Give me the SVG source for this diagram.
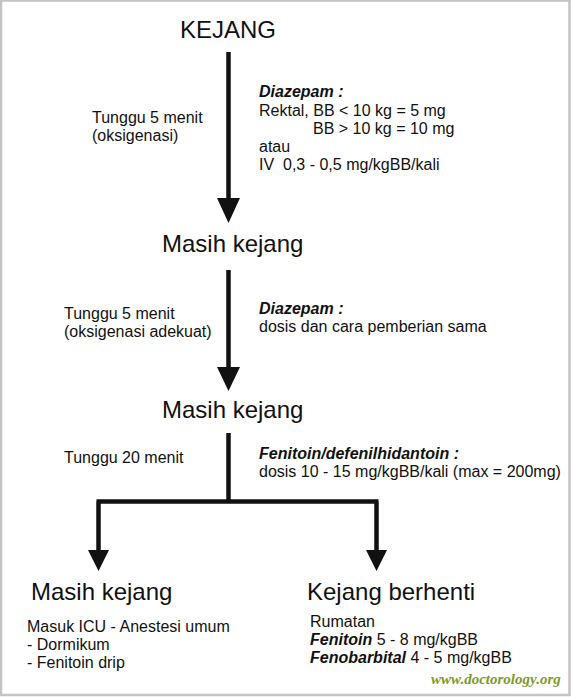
<svg xmlns="http://www.w3.org/2000/svg" width="571" height="697" viewBox="0 0 571 697">
<style>
.h{font-family:"Liberation Sans",Arial,sans-serif;font-size:24px;fill:#111}
.t{font-family:"Liberation Sans",Arial,sans-serif;font-size:16px;fill:#111}
.b{font-weight:bold;font-style:italic}
.ln{stroke:#111;stroke-width:4.5;fill:none}
.hd{fill:#111}
</style>
<rect x="0" y="0" width="571" height="697" fill="#fff"/>
<rect x="1" y="0.5" width="568.5" height="694.5" fill="none" stroke="#c4c4c4" stroke-width="2.5"/>
<g id="n_kejang"><text class="h" x="180" y="38">KEJANG</text></g>
<g id="n_masih1"><text class="h" x="162" y="252">Masih kejang</text></g>
<g id="n_masih2"><text class="h" x="162" y="418">Masih kejang</text></g>
<g id="n_masih3"><text class="h" x="31" y="600">Masih kejang</text>
<text class="t" x="27" y="632">Masuk ICU - Anestesi umum</text>
<text class="t" x="27" y="650">- Dormikum</text>
<text class="t" x="27" y="668">- Fenitoin drip</text></g>
<g id="n_berhenti"><text class="h" x="307" y="600">Kejang berhenti</text>
<text class="t" x="310" y="627">Rumatan</text>
<text class="t" x="310" y="645"><tspan class="b">Fenitoin</tspan> 5 - 8 mg/kgBB</text>
<text class="t" x="310" y="663"><tspan class="b">Fenobarbital</tspan> 4 - 5 mg/kgBB</text></g>
<g id="connectors">
<path class="ln" d="M228.5 52V200"/>
<polygon class="hd" points="217,198 240,198 228.5,223"/>
<path class="ln" d="M228.5 270V369"/>
<polygon class="hd" points="217,367 240,367 228.5,391"/>
<path class="ln" d="M228.5 433V501.5M96.5 501.5H378.5M98.5 501.5V552M376.5 501.5V552"/>
<polygon class="hd" points="88,550 109,550 98.5,571"/>
<polygon class="hd" points="366,550 387,550 376.5,571"/>
</g>
<g id="labels">
<text class="t" x="92" y="123">Tunggu 5 menit</text>
<text class="t" x="92" y="141">(oksigenasi)</text>
<text class="t b" x="259" y="97">Diazepam :</text>
<text class="t" x="259" y="115.5">Rektal, BB &lt; 10 kg = 5 mg</text>
<text class="t" x="313" y="134">BB &gt; 10 kg = 10 mg</text>
<text class="t" x="259" y="152">atau</text>
<text class="t" x="259" y="170" xml:space="preserve">IV  0,3 - 0,5 mg/kgBB/kali</text>
<text class="t" x="64" y="319">Tunggu 5 menit</text>
<text class="t" x="64" y="337">(oksigenasi adekuat)</text>
<text class="t b" x="259" y="314">Diazepam :</text>
<text class="t" x="259" y="332">dosis dan cara pemberian sama</text>
<text class="t" x="64" y="463">Tunggu 20 menit</text>
<text class="t b" x="259" y="459">Fenitoin/defenilhidantoin :</text>
<text class="t" x="259" y="477">dosis 10 - 15 mg/kgBB/kali (max = 200mg)</text>
</g>
<text x="431" y="684" font-family="'Liberation Serif',serif" font-weight="bold" font-style="italic" font-size="15" fill="#7d9a2c">www.doctorology.org</text>
</svg>
